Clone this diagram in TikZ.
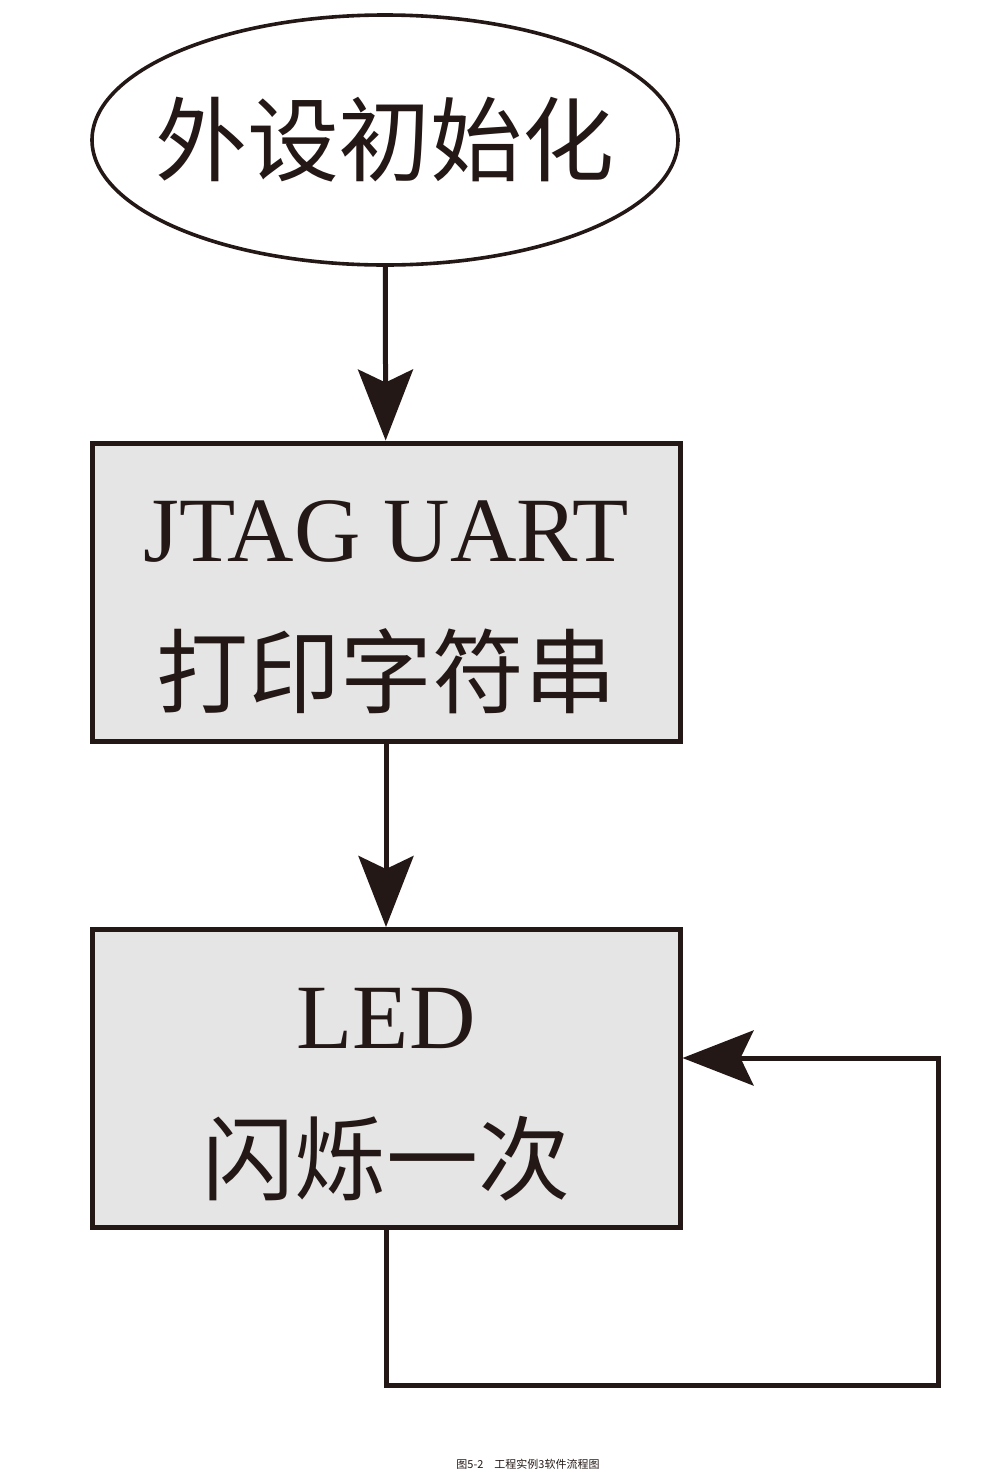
\documentclass[tikz,border=0pt]{standalone}
\usepackage{xcolor}
\usepackage{fontspec}
\setmainfont{Liberation Serif}
\newfontfamily\cjk{Noto Sans CJK SC}
\usepackage{tikz}
\usetikzlibrary{arrows.meta,positioning,shapes,calc}
\definecolor{ink}{HTML}{231815}
\definecolor{boxgray}{HTML}{E5E5E5}
\newcommand{\topstrut}{\rule{0pt}{46pt}}
\tikzset{
  box/.style={draw=ink,line width=2.5pt,fill=boxgray,align=center,text=ink,
              font=\fontsize{46}{72.5}\selectfont,
              minimum width=294pt,minimum height=149pt,inner sep=0pt},
  oval/.style={ellipse,draw=ink,line width=1.8pt,fill=white,text=ink,
              font=\fontsize{46}{55}\selectfont\cjk,
              minimum width=293pt,minimum height=125pt,
              inner xsep=-12pt,inner ysep=0pt},
  arr/.style={-{Stealth[length=35.5pt,width=27.5pt,inset=6.5pt]},
              draw=ink,line width=2.5pt},
  captext/.style={font=\fontsize{5.5}{6}\selectfont\cjk,text=ink},
}

\begin{document}
\begin{tikzpicture}[x=0.5pt,y=-0.5pt]
\useasboundingbox (0,0) rectangle (996,1484);

\node[oval] (init) at (385,140) {外设初始化};
\node[box] (print) at (386,592) {\topstrut JTAG UART\\{\cjk 打印字符串}};
\node[box] (blink) at (386,1078.5) {\topstrut LED\\{\cjk 闪烁一次}};

\coordinate (corner) at (938,1385);
\coordinate (back) at ([yshift=10.25pt]blink.east);

\draw[arr] (init)  -- (print);
\draw[arr] (print) -- (blink);
\draw[arr] (blink.south) |- (corner) |- (back);

\node[captext] (title) at (528,1464) {图5-2\quad 工程实例3软件流程图};
\end{tikzpicture}
\end{document}
